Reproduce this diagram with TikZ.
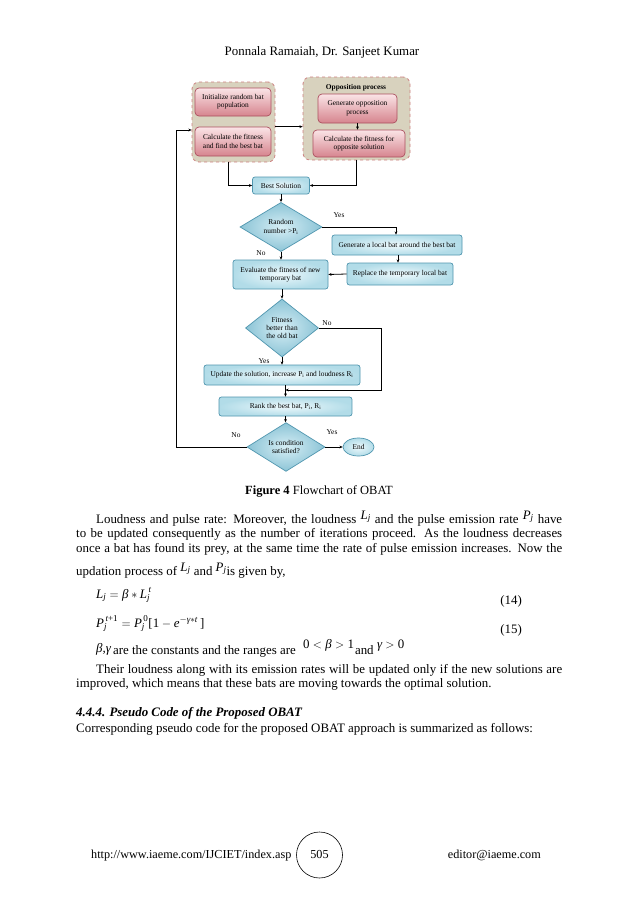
\documentclass[tikz,border=0pt]{standalone}
\usepackage{fontspec}
\usepackage{amsmath}
\setmainfont{Liberation Serif}
\usetikzlibrary{shapes.geometric,arrows.meta,calc}
\definecolor{grpfill}{RGB}{216,210,190}
\definecolor{grpdraw}{RGB}{205,130,130}
\definecolor{pinktop}{RGB}{250,228,230}
\definecolor{pinkbot}{RGB}{214,132,142}
\definecolor{pinkdraw}{RGB}{172,80,95}
\definecolor{bluein}{RGB}{238,249,252}
\definecolor{blueout}{RGB}{178,220,232}
\definecolor{bluedraw}{RGB}{80,150,175}
\definecolor{diain}{RGB}{214,238,245}
\definecolor{diaout}{RGB}{140,196,214}
\newcommand\iL[1]{\raisebox{4pt}{$\textit{#1}_{\textit{j}}$}}
\newcommand\fcfont{\fontsize{7.4}{8.4}\selectfont}
\newcommand\bodyfont{\fontsize{12.9}{14.8}\selectfont}
\newcommand\footfont{\fontsize{12.2}{14}\selectfont}
\begin{document}
\begin{tikzpicture}[x=1pt,y=-1pt,
  grp/.style={draw=grpdraw,dashed,line width=0.8pt,fill=grpfill,rounded corners=7pt},
  pbox/.style={draw=pinkdraw,line width=0.7pt,top color=pinktop,bottom color=pinkbot,rounded corners=4pt,align=center,font=\fcfont,inner sep=1pt},
  bbox/.style={draw=bluedraw,line width=0.7pt,inner color=bluein,outer color=blueout,rounded corners=2.5pt,align=center,font=\fcfont,inner sep=1pt},
  dia/.style={diamond,draw=bluedraw,line width=0.7pt,inner color=diain,outer color=diaout,align=center,font=\fcfont,inner sep=0pt},
  lbl/.style={font=\fcfont,inner sep=0pt},
  arr/.style={draw=black,line width=0.8pt,-{Stealth[length=3.2pt,width=2.8pt]}},
  txt/.style={font=\bodyfont,inner sep=0pt}]
\useasboundingbox (0,0) rectangle (638,902);
\fill[white] (0,0) rectangle (638,902);

% header
\node[txt,anchor=base] (hdr) at (322,55.5) {Ponnala Ramaiah, Dr. Sanjeet Kumar};

% groups
\node[grp,minimum width=83pt,minimum height=80pt] (grpL) at (233.5,122) {};
\node[grp,minimum width=107pt,minimum height=83pt] (grpR) at (356.5,118.5) {};
\node[lbl,font=\fcfont\bfseries] (optitle) at (356,88) {Opposition process};

\node[pbox,minimum width=76pt,minimum height=28pt] (init) at (233,102) {Initialize random bat\\population};
\node[pbox,minimum width=76pt,minimum height=29pt] (calcL) at (233,141.5) {Calculate the fitness\\and find the best bat};
\node[pbox,minimum width=79pt,minimum height=29pt] (genopp) at (357.5,108.5) {Generate opposition\\process};
\node[pbox,minimum width=92pt,minimum height=27pt] (calcR) at (359,143.5) {Calculate the fitness for\\opposite solution};

\node[bbox,minimum width=57pt,minimum height=17pt] (best) at (281,185.5) {Best Solution};
\node[dia,minimum width=82pt,minimum height=44pt] (rand) at (281,227) {Random\\number >P\textsubscript{i}};
\node[bbox,minimum width=130pt,minimum height=20pt] (genloc) at (397,245) {Generate a local bat around the best bat};
\node[bbox,minimum width=106pt,minimum height=22pt] (repl) at (400,274) {Replace the temporary local bat};
\node[bbox,minimum width=95pt,minimum height=29pt] (eval) at (280.5,274.5) {Evaluate the fitness of new\\temporary bat};
\node[dia,minimum width=73pt,minimum height=58pt] (fit) at (282,328) {Fitness\\better than\\the old bat};
\node[bbox,minimum width=156pt,minimum height=20pt] (upd) at (282,375) {Update the solution, increase P\textsubscript{i} and loudness R\textsubscript{i}};
\node[bbox,minimum width=133pt,minimum height=19pt] (rank) at (285.5,406.5) {Rank the best bat, P\textsubscript{i}, R\textsubscript{i}};
\node[dia,minimum width=78pt,minimum height=40pt] (cond) at (286,447) {Is condition\\satisfied?};
\node[ellipse,draw=bluedraw,line width=0.7pt,inner color=bluein,outer color=blueout,minimum width=31pt,minimum height=18pt,inner sep=0pt,font=\fcfont] (endn) at (358.5,447) {End};

% labels
\node[lbl] (y1) at (339,215) {Yes};
\node[lbl] (n1) at (261,253) {No};
\node[lbl] (n2) at (327,323) {No};
\node[lbl] (y2) at (264,361) {Yes};
\node[lbl] (y3) at (332,432) {Yes};
\node[lbl] (n3) at (236,435) {No};

% connectors
\draw[arr] (grpL.east |- calcL.north) -- (grpR.west |- calcL.north);
\draw[arr] (genopp.south) -- (genopp.south |- calcR.north);
\draw[arr] ([xshift=-5.5pt]grpL.south) |- (best.west);
\draw[arr] (grpR.south) |- (best.east);
\draw[arr] (best.south) -- (rand.north);
\draw[arr] (rand.east) -| ([xshift=-1pt]genloc.north);
\draw[arr] ([xshift=1pt]genloc.south) -- ([xshift=-2pt]repl.north);
\draw[arr] (repl.west) -- (eval.east);
\draw[arr] (rand.south) -- (rand.south |- eval.north);
\draw[arr] (eval.south -| fit.north) -- (fit.north);
\draw[arr] (fit.south) -- (fit.south |- upd.north);
\coordinate (fb) at (381,390);
\draw[arr] (fit.east) -| (fb) -- (fb -| rank.north);
\draw[arr] (upd.south -| rank.north) -- (rank.north);
\draw[arr] (rank.south) -- (rank.south |- cond.north);
\draw[arr] (cond.east) -- (endn.west);
\coordinate (lt) at (176,130);
\draw[arr] (cond.west) -| (lt) -- (lt -| grpL.west);

% caption
\node[txt,font=\fontsize{12.5}{14}\selectfont,anchor=base] (cap) at (319,494.5) {\textbf{Figure 4} Flowchart of OBAT};

% paragraph 1
\node[txt,anchor=base west] (l1) at (96,523) {\makebox[466pt][s]{Loudness and pulse rate: Moreover, the loudness \iL{L} and the pulse emission rate \iL{P} have}};
\node[txt,anchor=base west] (l2) at (76,537.8) {\makebox[486pt][s]{to be updated consequently as the number of iterations proceed. As the loudness decreases}};
\node[txt,anchor=base west] (l3) at (76,552.6) {\makebox[486pt][s]{once a bat has found its prey, at the same time the rate of pulse emission increases. Now the}};
\node[txt,anchor=base west] (l4) at (76,575) {updation process of \iL{L} and \iL{P}is given by,};

% equations
\node[txt,anchor=base west] (e14) at (96,598) {$\textit{L}_{\textit{j}} = \textit{β} * \textit{L}_{\textit{j}}^{\,\textit{t}}$};
\node[txt,anchor=base east] (n14) at (522,604) {(14)};
\node[txt,anchor=base west] (e15) at (96,627) {$\textit{P}_{\textit{j}}^{\,\textit{t}\text{+1}} = \textit{P}_{\textit{j}}^{\,\text{0}}\text{[1} - \textit{e}^{-\textit{γ}*\textit{t}}\,\text{]}$};
\node[txt,anchor=base east] (n15) at (522,633) {(15)};

\node[txt,anchor=base west] (bg) at (96,652) {\textit{β,γ}};
\node[txt,anchor=base west] (bgt) at ($(bg.base east)+(1.5,2.5)$) {are the constants and the ranges are};
\node[txt,anchor=base west] (rng1) at (303,648) {$\text{0} < \textit{β} > \text{1}$};
\node[txt,anchor=base west] (andw) at ($(rng1.base east)+(0.5,6.5)$) {and};
\node[txt,anchor=base west] (rng2) at ($(andw.base east)+(3,-6.5)$) {$\textit{γ} > \text{0}$};

% paragraph 2
\node[txt,anchor=base west] (t1) at (96,673) {\makebox[466pt][s]{Their loudness along with its emission rates will be updated only if the new solutions are}};
\node[txt,anchor=base west] (t2) at (76,687.8) {improved, which means that these bats are moving towards the optimal solution.};

% heading
\node[txt,anchor=base west,font=\bodyfont\bfseries\itshape] (hd) at (76,716) {4.4.4. Pseudo Code of the Proposed OBAT};
\node[txt,anchor=base west] (corr) at (76,732) {Corresponding pseudo code for the proposed OBAT approach is summarized as follows:};

% footer
\node[txt,font=\footfont,anchor=base west] (url) at (91,858) {http://www.iaeme.com/IJCIET/index.asp};
\node[draw,circle,line width=0.6pt,minimum size=46pt,inner sep=0pt] (pgc) at (319.5,855) {};
\node[txt,font=\footfont,anchor=base] (pg) at (319.5,858) {505};
\node[txt,font=\footfont,anchor=base east] (mail) at (541,858) {editor@iaeme.com};
\end{tikzpicture}
\end{document}
